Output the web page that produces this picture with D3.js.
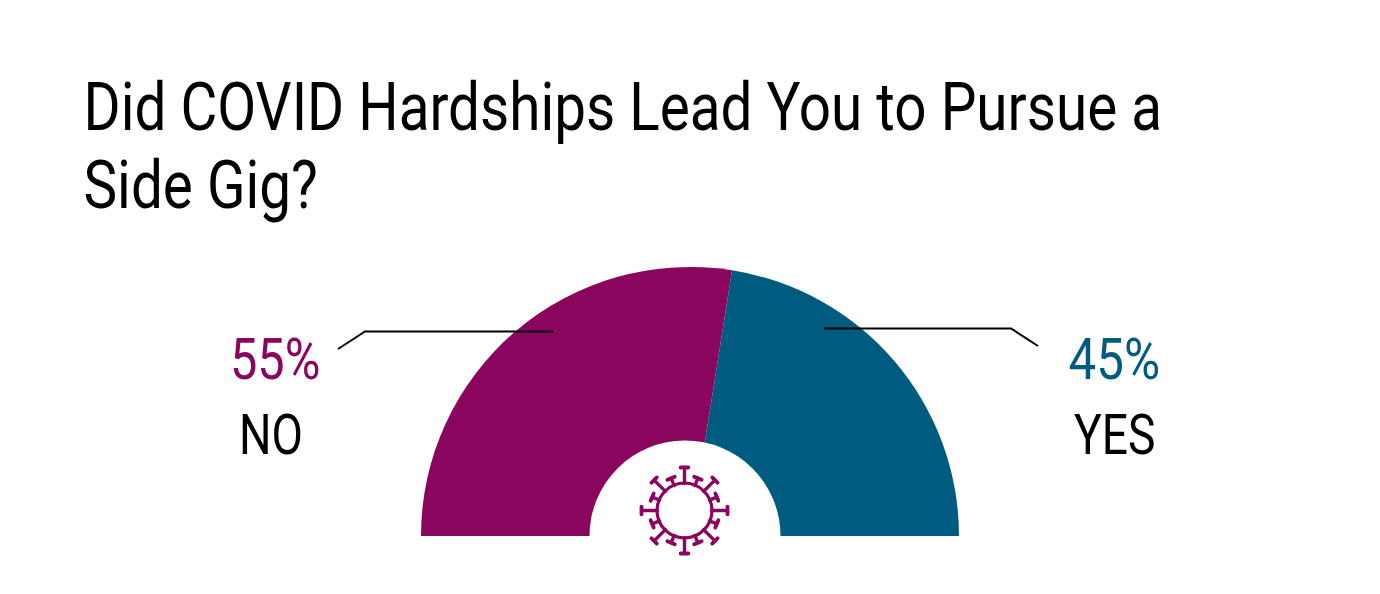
<!DOCTYPE html>
<html><head><meta charset="utf-8">
<script src="https://cdn.jsdelivr.net/npm/d3@7/dist/d3.min.js"></script>
<style>html,body{margin:0;background:#fff}svg{display:block}text{font-family:Roboto,sans-serif;font-weight:400}</style>
</head><body><svg id="c" width="1380" height="594"></svg>
<script>
const titleLines = ["Did COVID Hardships Lead You to Pursue a", "Side Gig?"];
const categories = ["NO", "YES"];
const values = [55, 45];
const colors = ["#8a055e", "#005b80"];
const longSpikes = [0, 45, 90, 135, 180, 225, 270, 315];
const shortSpikes = [22.5, 67.5, 112.5, 157.5, 202.5, 247.5, 292.5, 337.5];

const svg = d3.select("#c");
const cx = 690, cy = 536, R = 269;

function label(x, y, str, size, fill, sx, ls) {
  svg.append("text").attr("transform", `translate(${x},${y}) scale(${sx},1)`)
    .attr("font-size", size).attr("fill", fill).attr("letter-spacing", ls || 0).text(str);
}
titleLines.forEach((t, i) => label(83.5, 130 + i * 77.5, t, 66, "#000", 0.858));

const pie = d3.pie().sort(null).startAngle(-Math.PI / 2).endAngle(Math.PI / 2);
const arc = d3.arc().innerRadius(0).outerRadius(R);
svg.append("g").attr("transform", `translate(${cx},${cy})`)
  .selectAll("path").data(pie(values)).join("path")
  .attr("d", arc).attr("fill", (d, i) => colors[i]);
svg.append("circle").attr("cx", 685).attr("cy", cy).attr("r", 95.5).attr("fill", "#fff");
svg.append("rect").attr("x", 580).attr("y", cy).attr("width", 210).attr("height", 58).attr("fill", "#fff");

const leaders = [
  [[338, 349], [365, 331.5], [553, 331.5]],
  [[1038, 346], [1011, 328.5], [824, 328.5]]
];
leaders.forEach(p => svg.append("path").attr("d", d3.line()(p))
  .attr("fill", "none").attr("stroke", "#000").attr("stroke-width", 2));

label(230, 379, values[0] + "%", 58, colors[0], 0.84);
label(1068.5, 379, values[1] + "%", 58, colors[1], 0.85);
label(239, 454, categories[0], 55, "#000", 0.83);
label(1074, 454, categories[1], 55, "#000", 0.84);

const v = svg.append("g").attr("transform", "translate(684.5,510.5)")
  .attr("stroke", colors[0]).attr("fill", "none").attr("stroke-linecap", "round");
v.append("circle").attr("r", 27.5).attr("stroke-width", 3.2);
function spike(a, r2, w) {
  const g = v.append("g").attr("transform", `rotate(${a})`);
  g.append("line").attr("y1", -27).attr("y2", -r2).attr("stroke-width", 3.4);
  g.append("line").attr("x1", -w).attr("x2", w).attr("y1", -r2).attr("y2", -r2).attr("stroke-width", 3.8);
}
longSpikes.forEach(a => spike(a, 43, 3.8));
shortSpikes.forEach(a => spike(a, 35, 4));
</script></body></html>
